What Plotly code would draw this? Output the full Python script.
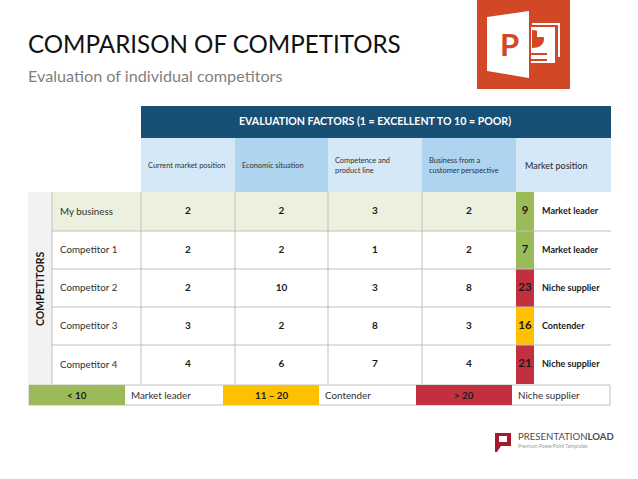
import plotly.graph_objects as go

# table contents
factors = ["Current market position", "Economic situation", "Competence and<br>product line",
           "Business from a<br>customer perspective"]
competitors = ["My business", "Competitor 1", "Competitor 2", "Competitor 3", "Competitor 4"]
scores_position = [2, 2, 2, 3, 4]
scores_economic = [2, 2, 10, 2, 6]
scores_competence = [3, 1, 3, 8, 7]
scores_customer = [2, 2, 8, 3, 4]
totals = [9, 7, 23, 16, 21]
verdicts = ["Market leader", "Market leader", "Niche supplier", "Contender", "Niche supplier"]
legend_ranges = ["< 10", "11 – 20", "> 20"]
legend_names = ["Market leader", "Contender", "Niche supplier"]

FONT = "Lato"
GREEN = "#9BBB59"
ORANGE = "#FFC000"
RED = "#C2303F"
GRID = "#BFBFBF"
NAVY = "#174F75"
LIGHT = "#D5E8F7"
MID = "#AED4EF"
BADGE = "#D24726"

col_x = [141, 235, 328, 422, 516]
row_y = [192, 231, 269, 307, 345, 384]
col_mid = [(col_x[i] + col_x[i + 1]) / 2 for i in range(4)]
row_mid = [(row_y[i] + row_y[i + 1]) / 2 for i in range(5)]


def band(t):
    return GREEN if t < 10 else (ORANGE if t <= 20 else RED)


shapes = []
notes = []


def box(x0, y0, x1, y1, fill, line=None, width=1):
    shapes.append(dict(type="rect", x0=x0, y0=y0, x1=x1, y1=y1, fillcolor=fill,
                       line=dict(color=line or fill, width=width if line else 0), layer="below"))


def rule(x0, y0, x1, y1, color=GRID, width=1):
    shapes.append(dict(type="line", x0=x0, y0=y0, x1=x1, y1=y1,
                       line=dict(color=color, width=width), layer="below"))


def blob(path, fill):
    shapes.append(dict(type="path", path=path, fillcolor=fill, line=dict(width=0), layer="below"))


def label(x, y, text, size, color="#262626", anchor="left", bold=False, angle=0):
    if bold:
        text = f"<b>{text}</b>"
    # annotations carry 2px of padding, take it back on left aligned text
    notes.append(dict(x=x - 2 if anchor == "left" else x, y=y - 1, text=text, showarrow=False,
                      xanchor=anchor, yanchor="middle", textangle=angle, align="left",
                      font=dict(family=FONT, size=size, color=color)))


# headers
box(141, 106, 611, 138, NAVY)
label(375, 122, "EVALUATION FACTORS (1 = EXCELLENT TO 10 = POOR)", 10.6, "white", "center", True)
for i in range(5):
    x1 = col_x[i + 1] if i < 4 else 611
    box(col_x[i], 138, x1, 192, MID if i % 2 else LIGHT)
for i, name in enumerate(factors):
    label(col_x[i] + 7, 166, name, 7.4, "#303030")
label(525, 166, "Market position", 9, "#262626")

# body
box(28, 192, 52, 384, "#F2F2F2")
box(52, 192, 516, 231, "#EBF1DE")
for i, t in enumerate(totals):
    box(516, row_y[i], 534, row_y[i + 1], band(t))
    label(542, row_mid[i], verdicts[i], 9, "#1A1A1A", bold=True)
    label(60, row_mid[i], competitors[i], 9.8, "#303030")
for y in row_y[1:5]:
    rule(52, y, 611, y)
for x in [52] + col_x[:4]:
    rule(x, 192, x, 384)
label(40, 290, "COMPETITORS", 10.5, "#1A1A1A", "center", True, -90)

# legend strip
legend_x = [29, 125, 223, 319, 416, 512, 610]
box(29, 385, 610, 405, "white", GRID)
for i in range(3):
    x0, x1, x2 = legend_x[2 * i], legend_x[2 * i + 1], legend_x[2 * i + 2]
    box(x0, 385, x1, 405, [GREEN, ORANGE, RED][i])
    label((x0 + x1) / 2, 395.5, legend_ranges[i], 9.8, "#1A1A1A", "center", True)
    label(x1 + 6, 395.5, legend_names[i], 9.8, "#303030")

# powerpoint badge
box(477, 0, 570, 89, BADGE)
blob("M 487 17 L 529 11 L 529 78 L 487 71 Z", "white")
blob("M 532 23 H 560 V 57 H 558 V 25 H 532 Z", "white")
blob("M 531 27 H 555 V 63 H 531 Z", "white")
blob("M 532 30 C 540 30 544 34 544 39 C 544 45 539 48 532 48 Z", BADGE)
blob("M 537 30 L 537 37 L 544 37 C 544 33 541 30 537 30 Z", "white")
box(531, 53, 547, 55, BADGE)
box(531, 59, 547, 61, BADGE)
label(509, 45, "P", 31, BADGE, "center", True)

# footer logo
blob("M 495 433 H 511 V 446 H 501 L 497 452 H 495 Z M 499 436 V 442 H 507 V 436 Z", "#A6192E")
label(518, 437, "PRESENTATION<b>LOAD</b>", 9.6, "#4D4D4D")
label(518, 447, "Premium PowerPoint Templates", 5, "#A0A0A0")

# titles
label(28, 44, "COMPARISON OF COMPETITORS", 24.15, "#111111")
label(28, 76, "Evaluation of individual competitors", 16.2, "#7F7F7F")

fig = go.Figure()
for x, vals in zip(col_mid, [scores_position, scores_economic, scores_competence, scores_customer]):
    fig.add_trace(go.Scatter(x=[x] * 5, y=row_mid, mode="text", text=[f"<b>{v}</b>" for v in vals],
                             textfont=dict(family=FONT, size=10, color="#1A1A1A"),
                             textposition="middle center", hoverinfo="skip", showlegend=False))
fig.add_trace(go.Scatter(x=[525] * 5, y=row_mid, mode="text", text=[f"<b>{t}</b>" for t in totals],
                         textfont=dict(family=FONT, size=11.5, color="#1A1A1A"),
                         textposition="middle center", hoverinfo="skip", showlegend=False))

fig.update_layout(
    width=638, height=479,
    margin=dict(l=0, r=0, t=0, b=0),
    paper_bgcolor="white", plot_bgcolor="white",
    xaxis=dict(range=[0, 638], visible=False, fixedrange=True),
    yaxis=dict(range=[479, 0], visible=False, fixedrange=True),
    shapes=shapes, annotations=notes,
)

# the page's default body margin would push everything 8px down and right
fig.write_html("out.html", config=dict(displayModeBar=False),
               post_script="document.body.style.margin = '0';")
